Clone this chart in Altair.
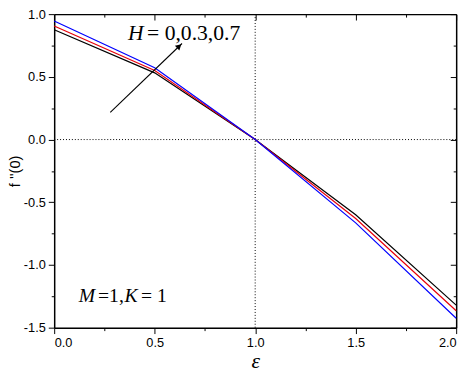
import altair as alt
import pandas as pd

# ---- data ----
eps = [0.0, 0.5, 1.0, 1.5, 2.0]
h_values = ["0", "0.3", "0.7"]
f_h0 = [0.875, 0.532, 0.0, -0.600, -1.320]
f_h03 = [0.905, 0.550, 0.0, -0.630, -1.365]
f_h07 = [0.945, 0.573, 0.0, -0.664, -1.425]
series = [f_h0, f_h03, f_h07]
colors = ["#000000", "#e8000b", "#0000ff"]

x_major = [0.0, 0.5, 1.0, 1.5, 2.0]
x_minor = [0.25, 0.75, 1.25, 1.75]
y_major = [-1.5, -1.0, -0.5, 0.0, 0.5, 1.0]
y_minor = [-1.25, -0.75, -0.25, 0.25, 0.75]

rows = []
for h, vals in zip(h_values, series):
    for e, v in zip(eps, vals):
        rows.append({"eps": e, "f": v, "H": h})
df = pd.DataFrame(rows)

W, H = 409, 319
xs = alt.Scale(domain=[0, 2], nice=False, zero=False)
ys = alt.Scale(domain=[-1.5, 1.0], nice=False, zero=False)
lab = "datum.value < 0 ? '-' + format(-datum.value, '.1f') : format(datum.value, '.1f')"
FONT = "Liberation Sans"
DOM = dict(domain=True, domainColor="black", domainWidth=1.5)

lines = alt.Chart(df).mark_line(strokeWidth=1.2).encode(
    x=alt.X("eps:Q", scale=xs, axis=alt.Axis(
        values=x_major, orient="bottom", tickSize=6, labelExpr=lab, grid=False,
        title="ε", titleFont="Liberation Serif", titleFontStyle="italic", titleFontWeight="normal",
        titleFontSize=22, titlePadding=2, labelFont=FONT, labelFontSize=13, labelPadding=3,
        tickColor="black", labelColor="black", titleColor="black", **DOM)),
    y=alt.Y("f:Q", scale=ys, axis=alt.Axis(
        values=y_major, orient="left", tickSize=6, labelExpr=lab, grid=False,
        title="f ''(0)", titleFont=FONT, titleFontWeight="normal", titleFontSize=15,
        titlePadding=1, labelFont=FONT, labelFontSize=13, labelPadding=3,
        tickColor="black", labelColor="black", titleColor="black", **DOM)),
    color=alt.Color("H:N", scale=alt.Scale(domain=h_values, range=colors), legend=None),
)


def tick_layer(xvals, yvals, size, xoff, yoff, dom):
    extra = DOM if dom else dict(domain=False)
    return alt.Chart(df).mark_point(opacity=0).encode(
        x=alt.X("eps:Q", scale=xs, axis=alt.Axis(
            values=xvals, orient="bottom", offset=xoff, tickSize=size, labels=False,
            grid=False, title=None, tickColor="black", **extra)),
        y=alt.Y("f:Q", scale=ys, axis=alt.Axis(
            values=yvals, orient="left", offset=yoff, tickSize=size, labels=False,
            grid=False, title=None, tickColor="black", **extra)),
    )


minor_out = tick_layer(x_minor, y_minor, 3, 0, 0, False)
major_in = tick_layer(x_major, y_major, 6, -H, -W, True)
minor_in = tick_layer(x_minor, y_minor, 3, -H, -W, False)

vrule = alt.Chart(pd.DataFrame({"x": [1.0]})).mark_rule(
    strokeDash=[1, 2], color="black", strokeWidth=1).encode(
    x=alt.X("x:Q", scale=xs, axis=None))
hrule = alt.Chart(pd.DataFrame({"y": [0.0]})).mark_rule(
    strokeDash=[1, 2], color="black", strokeWidth=1).encode(
    y=alt.Y("y:Q", scale=ys, axis=None))

# arrow
arrow_df = pd.DataFrame({"x": [0.279, 0.636], "y": [0.217, 0.766], "o": [0, 1]})
arrow = alt.Chart(arrow_df).mark_line(color="black", strokeWidth=1.1).encode(
    x=alt.X("x:Q", scale=xs, axis=None), y=alt.Y("y:Q", scale=ys, axis=None), order="o:Q")
head = alt.Chart(pd.DataFrame({"x": [0.622], "y": [0.745]})).mark_point(
    shape="triangle-up", filled=True, color="black", opacity=1, size=45, angle=47).encode(
    x=alt.X("x:Q", scale=xs, axis=None), y=alt.Y("y:Q", scale=ys, axis=None))

# annotations
ann_it = pd.DataFrame({
    "x": [0.367, 0.122, 0.350],
    "y": [0.797, -1.293, -1.293],
    "t": ["H", "M", "K"],
    "z": [22, 20, 20],
})
ann_up = pd.DataFrame({
    "x": [0.462, 0.218, 0.432],
    "y": [0.797, -1.293, -1.293],
    "t": ["= 0,0.3,0.7", "=1,", "= 1"],
    "z": [22, 20, 20],
})


def text_layer(d, style):
    return alt.Chart(d).mark_text(align="left", baseline="alphabetic", font="Liberation Serif",
                                  fontStyle=style, color="black").encode(
        x=alt.X("x:Q", scale=xs, axis=None), y=alt.Y("y:Q", scale=ys, axis=None),
        text="t:N",
        size=alt.Size("z:Q", scale=None),
    )


texts_it = text_layer(ann_it, "italic")
texts_up = text_layer(ann_up, "normal")

chart = alt.layer(hrule, vrule, lines, minor_out, major_in, minor_in, arrow, head,
                  texts_it, texts_up).resolve_axis(
    x="independent", y="independent").properties(
    width=W, height=H,
    autosize=alt.AutoSizeParams(type="none"),
    padding={"left": 47, "top": 3, "right": 10, "bottom": 50},
).configure_view(stroke=None).configure(background="white")

chart.save("out.html", embed_options={"renderer": "svg", "actions": False})
